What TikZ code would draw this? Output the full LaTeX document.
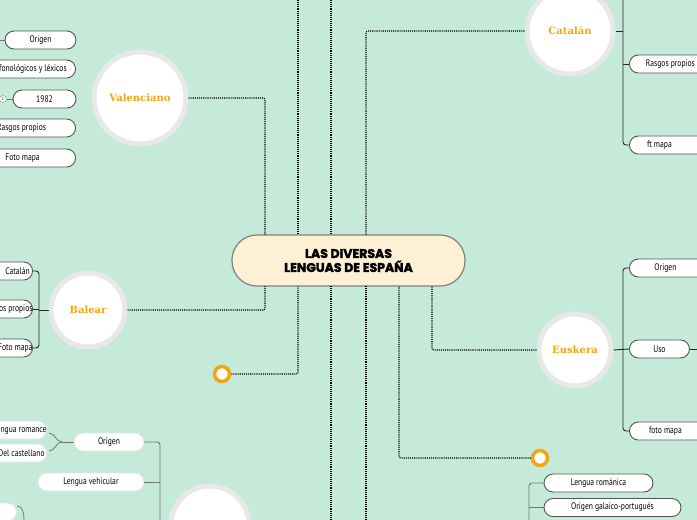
\documentclass[tikz,border=0pt]{standalone}
\usepackage{fontspec}
\setmainfont{PT Sans}
\newfontfamily\titlefont[FakeBold=2.5]{Poppins Bold}
\newfontfamily\langfont{DejaVu Serif}
\definecolor{bg}{HTML}{C6EAD9}
\definecolor{orng}{HTML}{F5A60F}
\definecolor{cream}{HTML}{FDF0D5}
\definecolor{ring}{HTML}{E8E8E8}
\definecolor{pillb}{HTML}{555550}
\begin{document}
\begin{tikzpicture}[x=1pt,y=-1pt,
  pill/.style={draw=pillb,line width=0.9pt,fill=white,rounded corners=9pt,minimum height=18pt,inner sep=0pt,font=\fontsize{9.5}{10}\selectfont\addfontfeature{FakeStretch=0.8}},
  lpill/.style={pill,draw=white!90!black},
  lang/.style={circle,fill=white,draw=ring,line width=5pt,inner sep=0pt,text=orng,font=\langfont\fontsize{10}{11}\selectfont\bfseries},
  dotl/.style={densely dotted,line width=1.1pt,rounded corners=2pt},
  br/.style={line width=0.9pt,draw=black!85,rounded corners=3pt},
  gbr/.style={line width=0.9pt,draw=black!55,rounded corners=3pt},
  ocirc/.style={circle,draw=orng,fill=white,line width=3.5pt,minimum size=15pt,inner sep=0pt}]
\fill[bg] (0,0) rectangle (697,520);
\useasboundingbox (0,0) rectangle (697,520);
% central
\node[draw=black!50,line width=1.2pt,fill=cream,rounded corners=25pt,minimum width=233pt,minimum height=51pt,align=center,font=\titlefont\fontsize{12.5}{14}\selectfont] (c) at (348.5,260.5) {LAS DIVERSAS\\LENGUAS DE ESPAÑA};
% language circles
\node[lang,minimum size=92pt] (val) at (140,98) {Valenciano};
\node[lang,minimum size=86pt] (cat) at (570,31) {Catalán};
\node[lang,minimum size=74pt] (bal) at (88,310) {Balear};
\node[lang,minimum size=72pt] (eus) at (575,350) {Euskera};
\node[lang,minimum size=78pt] (bot) at (210,525) {};
\node[ocirc] (o1) at (222,374) {};
\node[ocirc] (o2) at (540,458) {};
\coordinate (t1) at (298,0);\coordinate (t2) at (331,0);
\coordinate (b1) at (331,520);\coordinate (b2) at (366,520);
% dotted connectors
\draw[dotl] (val.east) -| (265,235);
\draw[dotl] (t1) -- (298,235);
\draw[dotl] (t2) -- (331,235);
\draw[dotl] (cat.west) -| (366,235);
\draw[dotl] (bal.east) -| (265,286);
\draw[dotl] (o1.east) -| (298,286);
\draw[dotl] (b1) -- (331,286);
\draw[dotl] (b2) -- (366,286);
\draw[dotl] (o2.west) -| (399,286);
\draw[dotl] (eus.west) -| (432,286);
% Valenciano pills
\node[pill,minimum width=71pt] (v1) at (40.5,40) {Origen};
\node[pill,minimum width=130pt,anchor=east] (v2) at (76,69) {\hspace*{20pt}Rasgos fonológicos y léxicos};
\node[pill,minimum width=63pt] (v3) at (44.5,99) {1982};
\node[pill,minimum width=100pt,anchor=east] (v4) at (76,128) {\hspace*{-8pt}Rasgos propios};
\node[pill,minimum width=100pt,anchor=east] (v5) at (76,158) {\hspace*{-6pt}Foto mapa};
\node[circle,draw=black!45,fill=white!80!bg,inner sep=0pt,minimum size=7pt,font=\fontsize{4}{4}\selectfont] (n1) at (3,99) {1};
\draw[gbr] (n1) -- (v3);
\coordinate (v1s) at (0,40);
\draw[gbr] (v1s) -- (v1);
% Balear pills
\node[pill,minimum width=80pt,anchor=east] (b1p) at (33,271) {\hspace*{50pt}Catalán};
\node[pill,minimum width=80pt,anchor=east] (b2p) at (33,309) {\hspace*{40pt}Rasgos propios};
\node[pill,minimum width=80pt,anchor=east] (b3p) at (33,348) {\hspace*{52pt}Foto mapa};
\draw[br] (bal.west) -- (39,310);
\draw[br] (b1p.east) -| (39,348) -- (b3p.east);
\draw[br] (b2p.east) -- (39,309);
% Catalán pills
\coordinate (ctop) at (623,0);
\node[pill,minimum width=90pt,anchor=west] (c1) at (629,64) {\hspace*{-8pt}Rasgos propios};
\node[pill,minimum width=90pt,anchor=west] (c2) at (629,145) {\hspace*{-30pt}ft mapa};
\draw[br] (cat.east) -- (623,31);
\draw[br] (ctop) |- (c2.west);
\draw[br] (623,64) -- (c1.west);
% Euskera pills
\node[pill,minimum width=90pt,anchor=west] (e1) at (629,268) {\hspace*{-18pt}Origen};
\node[pill,minimum width=60pt,anchor=west] (e2) at (629,349) {Uso};
\node[pill,minimum width=90pt,anchor=west] (e3) at (629,431) {\hspace*{-18pt}foto mapa};
\coordinate (e2r) at (697,349);
\draw[br] (eus.east) -- (e2.west);
\draw[br] (e1.west) -| (623,431) -- (e3.west);
\draw[br] (e2) -- (e2r);
% Galician pills
\node[pill,minimum width=109pt] (g1) at (598.5,483) {Lengua románica};
\node[pill,minimum width=137pt] (g2) at (612.5,507.5) {Origen galaico-portugués};
\coordinate (gb) at (529,520);
\draw[gbr] (g1.west) -| (gb);
\draw[gbr] (529,507.5) -- (g2.west);
% bottom-left pills
\node[lpill,minimum width=70pt] (l1) at (109,442) {Origen};
\node[lpill,minimum width=80pt,anchor=east] (l2) at (47,430) {\hspace*{34pt}Lengua romance};
\node[lpill,minimum width=80pt,anchor=east] (l3) at (47,453) {\hspace*{30pt}Del castellano};
\node[lpill,minimum width=106pt] (l4) at (91,482) {Lengua vehicular};
\node[lpill,minimum width=60pt,anchor=east] (l5) at (17,512) {};
\coordinate (lb) at (160,520);
\draw[gbr] (l1.east) -| (lb);
\draw[gbr] (l4.east) -- (160,482);
\draw[gbr] (l1.west) -- (62,442);
\draw[line width=0.8pt,draw=black!55] (49,433) to[out=0,in=180] (62,442) to[out=180,in=0] (49,451);
\draw[line width=0.8pt,draw=black!55] (17,506) to[out=0,in=90] (24,520);
\end{tikzpicture}
\end{document}
